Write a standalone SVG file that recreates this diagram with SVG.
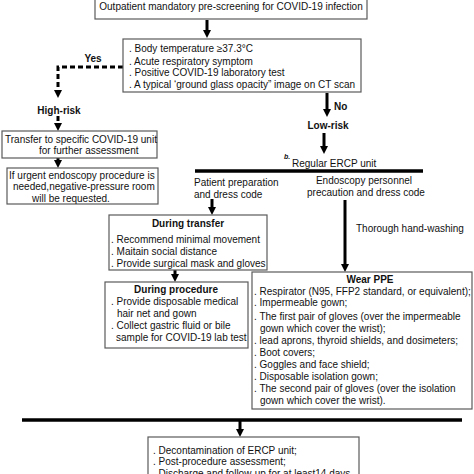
<svg xmlns="http://www.w3.org/2000/svg" width="474" height="474" viewBox="0 0 474 474">
<style>
text{font-family:"Liberation Sans",Arial,sans-serif;font-size:10px;fill:#111}
.b{font-weight:bold}
.c{text-anchor:middle}
.box{fill:#fff;stroke:#5a5a5a;stroke-width:1.2}
.ar{stroke:#000;stroke-width:3;fill:none}
.ds{stroke:#000;stroke-width:3;fill:none;stroke-dasharray:5 3}
.bar{stroke:#000;stroke-width:3.5}
</style>
<defs>
<marker id="ah" markerUnits="userSpaceOnUse" markerWidth="8" markerHeight="8" refX="2" refY="4" orient="auto">
<path d="M0,0 L8,4 L0,8 z" fill="#000"/>
</marker>
</defs>
<rect width="474" height="474" fill="#fff"/>

<g id="connectors">
<line class="ar" x1="207" y1="20" x2="207" y2="32" marker-end="url(#ah)"/>
<path class="ds" d="M123,67 H58 V92" marker-end="url(#ah)"/>
<line class="ds" x1="58" y1="116" x2="58" y2="125" marker-end="url(#ah)"/>
<line class="ds" x1="58" y1="158" x2="58" y2="162" stroke-dasharray="3 2" marker-end="url(#ah)"/>
<line class="ar" x1="327" y1="93" x2="327" y2="111" marker-end="url(#ah)"/>
<line class="ar" x1="324" y1="133" x2="324" y2="148" marker-end="url(#ah)"/>
<line class="bar" x1="195" y1="171" x2="423" y2="171"/>
<line class="ar" x1="345" y1="200" x2="345" y2="266" marker-end="url(#ah)"/>
<line class="ar" x1="212" y1="199" x2="212" y2="209" marker-end="url(#ah)"/>
<line class="ar" x1="175" y1="270" x2="175" y2="276" marker-end="url(#ah)"/>
<line class="bar" x1="22" y1="420" x2="462" y2="420"/>
<line class="ar" x1="240" y1="420" x2="240" y2="431" marker-end="url(#ah)"/>
</g>

<g id="prescreen">
<rect class="box" x="95" y="-5" width="272" height="24"/>
<text x="231" y="10" class="c">Outpatient mandatory pre-screening for COVID-19 infection</text>
</g>

<g id="criteria">
<rect class="box" x="123" y="39" width="238" height="53"/>
<text x="129" y="52">. Body temperature ≥37.3°C</text>
<text x="129" y="64.5">. Acute respiratory symptom</text>
<text x="129" y="76">. Positive COVID-19 laboratory test</text>
<text x="129" y="87.5">. A typical ‘ground glass opacity” image on CT scan</text>
</g>

<g id="labels">
<text x="93" y="61.5" class="b c">Yes</text>
<text x="59" y="113.5" class="b c">High-risk</text>
<text x="334" y="110" class="b">No</text>
<text x="328" y="128.5" class="b c">Low-risk</text>
<text x="284" y="159" font-size="7" font-style="italic" class="b" style="font-size:7px">b.</text>
<text x="292" y="166.5">Regular ERCP unit</text>
<text x="194" y="186">Patient preparation</text>
<text x="194" y="198">and dress code</text>
<text x="364" y="183.5" class="c">Endoscopy personnel</text>
<text x="366" y="195.5" class="c">precaution and dress code</text>
<text x="356" y="231.5">Thorough hand-washing</text>
</g>

<g id="transfer">
<rect class="box" x="2" y="131" width="155" height="27"/>
<text x="5" y="142.5">Transfer to specific COVID-19 unit</text>
<text x="39" y="153.5">for further assessment</text>
</g>

<g id="urgent">
<rect class="box" x="7" y="168" width="151" height="36"/>
<text x="9" y="178.5">If urgent endoscopy procedure is</text>
<text x="13" y="190">needed,negative-pressure room</text>
<text x="32" y="201.5">will be requested.</text>
</g>

<g id="during-transfer">
<rect class="box" x="109" y="215" width="158" height="55"/>
<text x="188" y="226.5" class="b c">During transfer</text>
<text x="111" y="242.5">. Recommend minimal movement</text>
<text x="111" y="254.5">. Maitain social distance</text>
<text x="111" y="266.5">. Provide surgical mask and gloves</text>
</g>

<g id="during-procedure">
<rect class="box" x="105" y="282" width="143" height="66"/>
<text x="176" y="292.5" class="b c">During procedure</text>
<text x="111" y="304.5">. Provide disposable medical</text>
<text x="117" y="316.5">hair net and gown</text>
<text x="111" y="328.5">. Collect gastric fluid or bile</text>
<text x="116" y="340.5">sample for COVID-19 lab test</text>
</g>

<g id="wear-ppe">
<rect class="box" x="252" y="272" width="220" height="137"/>
<text x="370" y="282.5" class="b c">Wear PPE</text>
<text x="254" y="294.5">. Respirator (N95, FFP2 standard, or equivalent);</text>
<text x="254" y="306">. Impermeable gown;</text>
<text x="254" y="320">. The first pair of gloves (over the impermeable</text>
<text x="260" y="331.5">gown which cover the wrist);</text>
<text x="254" y="343.5">. lead aprons, thyroid shields, and dosimeters;</text>
<text x="254" y="355.5">. Boot covers;</text>
<text x="254" y="368">. Goggles and face shield;</text>
<text x="254" y="379.5">. Disposable isolation gown;</text>
<text x="254" y="391.5">. The second pair of gloves (over the isolation</text>
<text x="260" y="404">gown which cover the wrist).</text>
</g>

<g id="post-procedure">
<rect class="box" x="148" y="437" width="211" height="50"/>
<text x="153" y="453.5">. Decontamination of ERCP unit;</text>
<text x="153" y="465">. Post-procedure assessment;</text>
<text x="153" y="476.5">. Discharge and follow-up for at least14 days</text>
</g>
</svg>
